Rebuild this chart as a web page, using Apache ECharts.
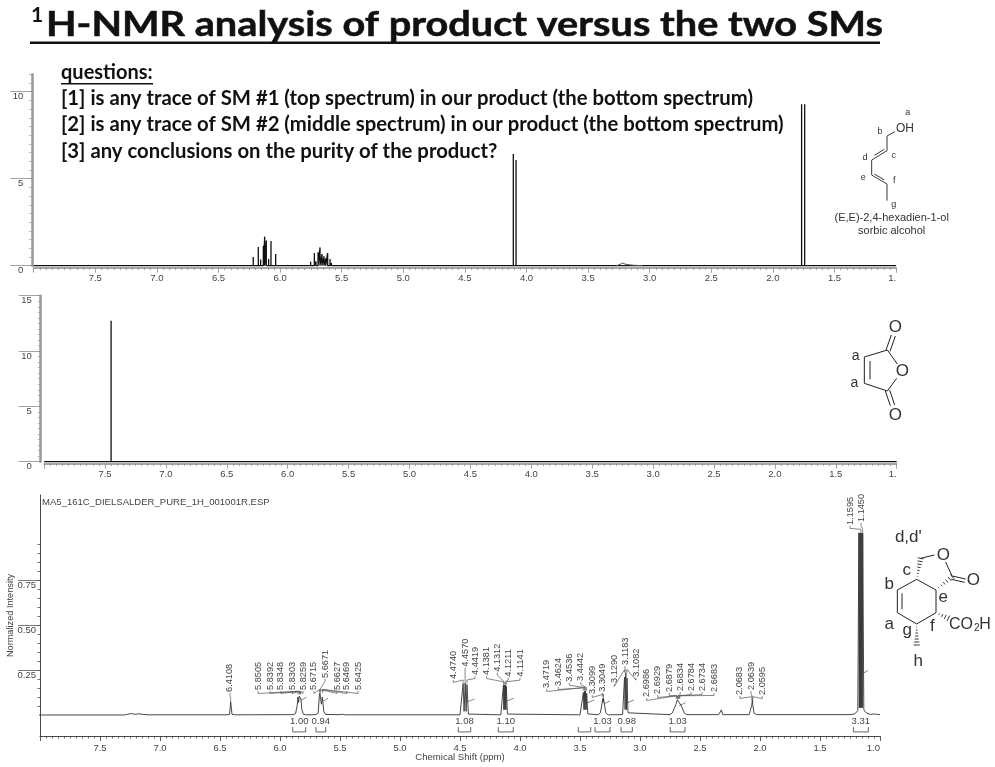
<!DOCTYPE html>
<html><head><meta charset="utf-8">
<style>html,body{margin:0;padding:0;background:#fff}#c{width:995px;height:767px}</style>
<script src="https://cdn.jsdelivr.net/npm/echarts@6/dist/echarts.min.js"></script>
</head><body><div id="c"></div>
<script>
// ---------- chart text ----------
const titleSup = '1';
const titleText = 'H-NMR analysis of product versus the two SMs';
const questionHead = 'questions:';
const questionLines = [
  '[1] is any trace of SM #1 (top spectrum) in our product (the bottom spectrum)',
  '[2] is any trace of SM #2 (middle spectrum) in our product (the bottom spectrum)',
  '[3] any conclusions on the purity of the product?'
];
const fileLabel = 'MA5_161C_DIELSALDER_PURE_1H_001001R.ESP';

// ---------- top spectrum: sorbic alcohol ----------
const sorbicPpm = [6.218,6.177,6.158,6.136,6.125,6.112,6.093,6.074,6.036,
                   5.752,5.722,5.709,5.692,5.676,5.660,5.644,5.630,5.614,5.595,5.584,
                   4.107,4.085,1.767,1.742];
const sorbicHeight = [0.50,1.07,0.35,1.15,1.67,1.45,0.38,1.42,0.67,
                      0.23,0.73,0.25,0.77,1.05,0.67,0.54,0.42,0.73,0.38,0.15,
                      6.42,6.07,9.28,9.28];
const sorbicHumpPpm = [3.27,3.24,3.22,3.20,3.14,3.06];
const sorbicHumpHeight = [0,0.08,0.15,0.09,0.03,0];
const topMajorTicks = [0,5,10];

// ---------- middle spectrum: maleic anhydride ----------
const maleicPpm = [7.45];
const maleicHeight = [12.74];
const midMajorTicks = [0,5,10,15];

// ---------- bottom spectrum: product ----------
const productPpm = [8.03,7.30,7.27,7.24,7.22,7.20,7.18,7.15,7.10,6.45,6.42,6.411,6.40,6.36,
  5.89,5.87,5.855,5.8505,5.845,5.8392,5.8348,5.8303,5.8259,5.818,5.805,5.78,
  5.70,5.682,5.6715,5.6671,5.6627,5.655,5.6469,5.6425,5.635,5.62,5.50,5.48,5.46,
  4.50,4.485,4.474,4.466,4.457,4.449,4.4419,4.43,4.415,
  4.16,4.145,4.1381,4.1345,4.1312,4.126,4.1211,4.1175,4.1141,4.105,4.09,
  3.50,3.485,3.4719,3.467,3.4624,3.458,3.4536,3.449,3.4442,3.435,3.42,
  3.35,3.33,3.3099,3.3075,3.3049,3.285,3.265,
  3.145,3.135,3.129,3.124,3.1183,3.113,3.1082,3.10,3.085,
  2.75,2.73,2.70,2.6879,2.6834,2.6784,2.655,2.63,2.61,
  2.345,2.33,2.322,2.31,
  2.09,2.075,2.0683,2.0639,2.0595,2.05,2.03,
  1.25,1.21,1.185,1.176,1.172,1.168,1.164,1.160,1.156,1.152,1.148,1.144,1.135,1.115,1.08,1.05,1.03,1.00];
const productInt = [0,0,0.004,0.008,0.005,0.004,0.007,0.004,0.001,0.001,0.003,0.073,0.003,0.001,
  0.002,0.008,0.06,0.10,0.07,0.105,0.112,0.105,0.09,0.03,0.004,0.001,
  0.002,0.01,0.11,0.122,0.115,0.06,0.10,0.09,0.02,0.003,0.002,0.004,0.001,
  0.001,0.006,0.175,0.02,0.178,0.02,0.17,0.005,0.001,
  0.001,0.006,0.165,0.03,0.167,0.03,0.165,0.03,0.16,0.005,0.001,
  0.001,0.006,0.125,0.03,0.132,0.03,0.132,0.03,0.12,0.006,0.001,
  0.001,0.012,0.09,0.07,0.095,0.012,0.001,
  0.002,0.012,0.21,0.03,0.235,0.03,0.205,0.012,0.002,
  0.002,0.012,0.06,0.085,0.09,0.085,0.05,0.01,0.002,
  0.002,0.01,0.028,0.002,
  0.002,0.01,0.055,0.085,0.055,0.01,0.002,
  0.002,0.006,0.025,1.012,0.04,1.012,0.04,1.012,0.04,1.012,0.04,1.012,0.03,0.012,0.003,0.006,0.004,0.002];
const productMajorTicks = [0.25,0.50,0.75];
const productMinorTicks = [0.05,0.10,0.15,0.20,0.25,0.30,0.35,0.40,0.45,0.50,0.55,0.60,0.65,0.70,0.75,0.80,0.85,0.90,0.95];

// peak picks: printed shift, where its label stands (ppm), label foot and peak top (intensity)
const pickText = ['6.4108','5.8505','5.8392','5.8348','5.8303','5.8259','5.6715','5.6671','5.6627','5.6469','5.6425',
  '4.4740','4.4570','4.4419','4.1381','4.1312','4.1211','4.1141',
  '3.4719','3.4624','3.4536','3.4442','3.3099','3.3049','3.1290','3.1183','3.1082',
  '2.6986','2.6929','2.6879','2.6834','2.6784','2.6734','2.6683','2.0683','2.0639','2.0595','1.1595','1.1450'];
const pickAt = [6.417,6.183,6.083,5.992,5.900,5.808,5.717,5.625,5.525,5.442,5.350,
  4.556,4.458,4.375,4.278,4.189,4.098,4.000,
  3.778,3.681,3.589,3.494,3.398,3.314,3.214,3.125,3.033,
  2.944,2.853,2.756,2.665,2.575,2.483,2.383,2.167,2.075,1.981,1.250,1.158];
const pickFoot = [0.128,0.139,0.139,0.139,0.139,0.139,0.139,0.206,0.139,0.139,0.139,
  0.200,0.268,0.222,0.222,0.240,0.213,0.213,
  0.150,0.161,0.185,0.189,0.117,0.129,0.178,0.278,0.213,
  0.100,0.117,0.128,0.133,0.133,0.133,0.128,0.111,0.139,0.111,1.056,1.072];
const pickTop = [0.074,0.115,0.115,0.115,0.115,0.115,0.125,0.125,0.125,0.125,0.125,
  0.178,0.178,0.178,0.168,0.168,0.168,0.168,
  0.135,0.135,0.135,0.135,0.098,0.098,0.236,0.236,0.236,
  0.090,0.090,0.090,0.090,0.090,0.090,0.090,0.085,0.085,0.085,1.015,1.015];

// integrals
const integralText = ['1.00','0.94','1.08','1.10','','1.03','0.98','1.03','3.31'];
const integralFrom = [5.894,5.700,4.514,4.181,3.514,3.375,3.158,2.748,1.222];
const integralTo   = [5.786,5.619,4.411,4.056,3.411,3.250,3.064,2.625,1.097];
const integralCurveFrom = [5.825,5.64,4.445,4.115,3.445,3.30,3.11,2.675,1.14];
const integralCurveTo   = [5.78,5.60,4.38,4.05,3.38,3.25,3.05,2.62,1.10];
const integralCurveY    = [0.09,0.085,0.08,0.085,0.075,0.07,0.075,0.06,0.24];

// ---------- helpers ----------
const gray = '#8a8a8a', textCol = '#444';
const stick = (p,h) => { const d=[[8,0]]; const o=p.map((v,i)=>[v,h[i]]).sort((a,b)=>b[0]-a[0]);
  o.forEach(q=>{d.push([q[0],0],[q[0],q[1]],[q[0],0]);}); d.push([1,0]); return d; };
const pairs = (p,h) => p.map((v,i)=>[v,h[i]]);

function xAxis(gi,opts){ return Object.assign({type:'value',gridIndex:gi,inverse:true,min:1,max:8,interval:0.5,
  position:'bottom',splitLine:{show:false},
  axisLine:{show:true,onZero:false,lineStyle:{color:opts.col,width:opts.w}},
  axisTick:{show:true,length:5,lineStyle:{color:opts.col,width:0.8}},
  minorTick:{show:true,splitNumber:10,length:2.5,lineStyle:{color:opts.col,width:0.7}},
  axisLabel:{show:true,margin:opts.m,fontFamily:'Liberation Sans',fontSize:9.5,color:textCol,alignMinLabel:'right',
    formatter:v=>v>=8?'':(v===1?opts.end:v.toFixed(1))}},opts.extra||{}); }

function yShort(gi,o){ return Object.assign({type:'value',gridIndex:gi,position:'left',offset:o.off,min:o.min,max:o.max,
  splitLine:{show:false},axisLine:{show:true,onZero:false,lineStyle:{color:o.col,width:o.w}},
  axisTick:{show:true,length:3,lineStyle:{color:o.col,width:0.7}},axisLabel:{show:false}},o.extra||{}); }
function yLong(gi,o){ return Object.assign({type:'value',gridIndex:gi,position:'left',offset:o.off,min:o.min,max:o.max,
  splitLine:{show:false},axisLine:{show:false},
  axisTick:{show:true,length:22,customValues:o.major,lineStyle:{color:o.tickCol,width:0.8}},
  axisLabel:{show:true,customValues:o.major,margin:o.m,verticalAlign:'top',align:'right',
    fontFamily:'Liberation Sans',fontSize:9.5,color:textCol,formatter:o.fmt}},o.extra||{}); }

function lineEl(p,w,c){ return {type:'polyline',silent:true,shape:{points:p},style:{stroke:c||'#222',lineWidth:w||1,fill:null}}; }
function txt(x,y,t,fs,o,extra){ return Object.assign({type:'text',silent:true,x:x,y:y,style:Object.assign({text:t,fontFamily:'Liberation Sans',fontSize:fs,fill:'#333',align:'center',verticalAlign:'middle'},o||{})},extra||{}); }
// structures are traced in zoomed units (3x) relative to an origin
function structure(ox,oy,lines,labels,w){ const z=(q)=>[ox+q[0]/3,oy+q[1]/3];
  const out=[]; lines.forEach(l=>out.push(lineEl(l.map(z),w||1)));
  labels.forEach(l=>{const q=z([l[0],l[1]]);out.push(txt(q[0],q[1],l[2],l[3]));}); return out; }
function hashed(ox,oy,a,b,n,maxW){ const out=[]; for(let i=1;i<=n;i++){const t=i/n;
    const cx=ox+(a[0]+(b[0]-a[0])*t)/3, cy=oy+(a[1]+(b[1]-a[1])*t)/3;
    const dx=(b[0]-a[0]),dy=(b[1]-a[1]),L=Math.hypot(dx,dy),hw=maxW*t/2;
    out.push(lineEl([[cx-dy/L*hw,cy+dx/L*hw],[cx+dy/L*hw,cy-dx/L*hw]],0.9)); } return out; }

const graphicEls = [];
// title (source slide is stretched sideways)
graphicEls.push(txt(37,15.5,titleSup,21,{fontFamily:'Lato',fontWeight:'bold',fill:'#111'}));
graphicEls.push(txt(46,25,titleText,34,{fontFamily:'Lato',fontWeight:'bold',fill:'#111',align:'left',stroke:'#111',lineWidth:0.5},{scaleX:1.168}));
graphicEls.push({type:'rect',silent:true,shape:{x:30,y:41.5,width:850,height:2.5},style:{fill:'#111'}});
graphicEls.push(txt(61,73,questionHead,20,{fontFamily:'Lato',fontWeight:'bold',fill:'#111',align:'left'}));
graphicEls.push({type:'rect',silent:true,shape:{x:61,y:83,width:92,height:1.5},style:{fill:'#111'}});
const qY=[98,124,151];
questionLines.forEach((q,i)=>graphicEls.push(txt(61,qY[i],q,20.3,{fontFamily:'Lato',fontWeight:'bold',fill:'#111',align:'left'})));
graphicEls.push(txt(42,502,fileLabel,9.55,{align:'left',fill:textCol}));

// sorbic alcohol
graphicEls.push(...structure(495,60,[
  [[1200,215],[1176,228],[1176,272],[1130,300],[1130,345],[1176,372],[1176,422]],
  [[1168,268],[1138,286]],[[1138,342],[1168,360]]
],[[1238,158,'a',9],[1230,205,'OH',12],[1155,215,'b',9],[1110,292,'d',9],[1196,287,'c',9],
   [1105,353,'e',9],[1198,362,'f',9],[1196,435,'g',9],
   [1190,473,'(E,E)-2,4-hexadien-1-ol',11],[1190,512,'sorbic alcohol',11]],0.9));
// maleic anhydride
graphicEls.push(...structure(780,285,[
  [[352,237],[322,195],[253,216],[253,295],[322,318],[350,280]],
  [[270,228],[270,283]],
  [[318,195],[334,150]],[[330,199],[346,153]],
  [[316,318],[331,362]],[[329,315],[344,360]]
],[[227,213,'a',14],[223,293,'a',14],[367,259,'O',17],[346,128,'O',17],[346,390,'O',17]],1));
// product
graphicEls.push(...structure(700,490,[
  [[650,268],[708,300],[708,368],[650,402],[592,368],[592,300],[650,268]],
  [[606,310],[606,358]],
  [[662,205],[703,195]],
  [[737,216],[757,260]],
  [[757,258],[797,267]],[[754,268],[794,277]]
],[[625,143,'d,d\'',17],[620,240,'c',17],[568,283,'b',17],[568,402,'a',17],[622,420,'g',17],
   [730,322,'e',17],[697,408,'f',17],[655,515,'h',17],[730,197,'O',17],[820,270,'O',17],[783,403,'CO',16],[855,403,'H',16],[830,416,'2',10]],1));
graphicEls.push(...hashed(700,490,[650,268],[662,205],7,6));
graphicEls.push(...hashed(700,490,[708,300],[757,260],6,6));
graphicEls.push(...hashed(700,490,[708,368],[745,385],4,6));
graphicEls.push(...hashed(700,490,[650,402],[650,465],7,6));

// ---------- option ----------
const option = {
  animation:false,
  backgroundColor:'#fff',
  graphic:{elements:graphicEls},
  grid:[
    {left:33.7,top:74.3,width:862.4,height:191.4,outerBoundsMode:'none'},
    {left:44.1,top:295.7,width:852.6,height:166,outerBoundsMode:'none'},
    {left:40,top:495,width:840,height:241,outerBoundsMode:'none'}
  ],
  xAxis:[
    xAxis(0,{col:gray,w:1.5,m:6,end:'1.',extra:{offset:2}}),
    xAxis(1,{col:gray,w:1.5,m:6,end:'1.',extra:{offset:2}}),
    xAxis(2,{col:'#333',w:0.9,m:7,end:'1.0',extra:{name:'Chemical Shift (ppm)',nameLocation:'middle',nameGap:16,nameMoveOverlap:false,
      nameTextStyle:{fontFamily:'Liberation Sans',fontSize:9.6,color:textCol}}})
  ],
  yAxis:[
    yShort(0,{off:1.5,min:0,max:11,col:'#999',w:2.5,extra:{interval:0.5}}),
    yLong(0,{off:1.5,min:0,max:11,major:topMajorTicks,m:9,tickCol:gray,fmt:v=>String(v)}),
    yShort(1,{off:3.4,min:0,max:15,col:'#999',w:2.5,extra:{interval:0.5}}),
    yLong(1,{off:3.4,min:0,max:15,major:midMajorTicks,m:9,tickCol:gray,fmt:v=>String(v)}),
    yShort(2,{off:0,min:-0.1167,max:1.2222,col:'#333',w:0.9,extra:{axisTick:{show:true,length:2.5,customValues:productMinorTicks,lineStyle:{color:'#333',width:0.7}}}}),
    yLong(2,{off:0,min:-0.1167,max:1.2222,major:productMajorTicks,m:4,tickCol:'#555',fmt:v=>v.toFixed(2),
      extra:{name:'Normalized Intensity',nameLocation:'middle',nameRotate:90,nameGap:25,nameMoveOverlap:false,
        nameTextStyle:{fontFamily:'Liberation Sans',fontSize:9.2,color:textCol}}})
  ],
  series:[
    {type:'line',xAxisIndex:0,yAxisIndex:0,data:stick(sorbicPpm,sorbicHeight),showSymbol:false,symbol:'none',clip:false,
      lineStyle:{color:'#111',width:1.3}},
    {type:'line',xAxisIndex:0,yAxisIndex:0,data:pairs(sorbicHumpPpm,sorbicHumpHeight),showSymbol:false,symbol:'none',
      lineStyle:{color:'#555',width:1}},
    {type:'line',xAxisIndex:1,yAxisIndex:2,data:stick(maleicPpm,maleicHeight),showSymbol:false,symbol:'none',clip:false,
      lineStyle:{color:'#111',width:1.3}},
    {type:'line',xAxisIndex:2,yAxisIndex:4,data:pairs(productPpm,productInt),showSymbol:false,symbol:'none',clip:false,
      lineStyle:{color:'#333',width:0.9}},
    // integral curves
    {type:'custom',xAxisIndex:2,yAxisIndex:4,clip:false,silent:true,
      data:integralCurveFrom.map((v,i)=>[v,integralCurveY[i],integralCurveTo[i]]),
      encode:{x:0,y:1},
      renderItem:(p,api)=>{const a=api.coord([api.value(0),api.value(1)]),b=api.coord([api.value(2),api.value(1)]);
        return {type:'polyline',shape:{points:[[a[0],a[1]+1.5],[b[0],a[1]-1.5]]},style:{stroke:'#555',lineWidth:0.7,fill:null}};}},
    // integral brackets and values
    {type:'custom',xAxisIndex:2,yAxisIndex:4,clip:false,silent:true,
      data:integralFrom.map((v,i)=>[v,integralTo[i]]),
      encode:{x:[0,1]},
      renderItem:(p,api)=>{const t=api.coord([api.value(0),-0.067]),e=api.coord([api.value(1),-0.094]);
        const lbl=api.coord([(api.value(0)+api.value(1))/2,-0.033]);
        return {type:'group',children:[
          {type:'polyline',shape:{points:[[t[0],t[1]],[t[0],e[1]],[e[0],e[1]],[e[0],t[1]]]},style:{stroke:'#555',lineWidth:0.9,fill:null}},
          {type:'text',x:lbl[0],y:lbl[1],style:{text:integralText[p.dataIndex],fontFamily:'Liberation Sans',fontSize:9.5,fill:textCol,align:'center',verticalAlign:'middle'}}
        ]};}},
    // peak picks
    {type:'custom',xAxisIndex:2,yAxisIndex:4,clip:false,silent:true,
      data:pickAt.map((v,i)=>[v,pickFoot[i],Number(pickText[i]),pickTop[i]]),
      encode:{x:0,y:1},
      renderItem:(p,api)=>{const a=api.coord([api.value(0),api.value(1)]),t=api.coord([api.value(2),api.value(3)]);
        return {type:'group',children:[
          {type:'polyline',shape:{points:[[a[0],a[1]+1],[a[0],a[1]+3.5],[t[0],t[1]-3],[t[0],t[1]]]},style:{stroke:'#555',lineWidth:0.7,fill:null}},
          {type:'text',x:a[0],y:a[1],rotation:Math.PI/2,style:{text:pickText[p.dataIndex],fontFamily:'Liberation Sans',fontSize:9.2,fill:textCol,align:'left',verticalAlign:'middle'}}
        ]};}}
  ]
};
echarts.init(document.getElementById('c'),null,{renderer:'canvas'}).setOption(option);
</script></body></html>
